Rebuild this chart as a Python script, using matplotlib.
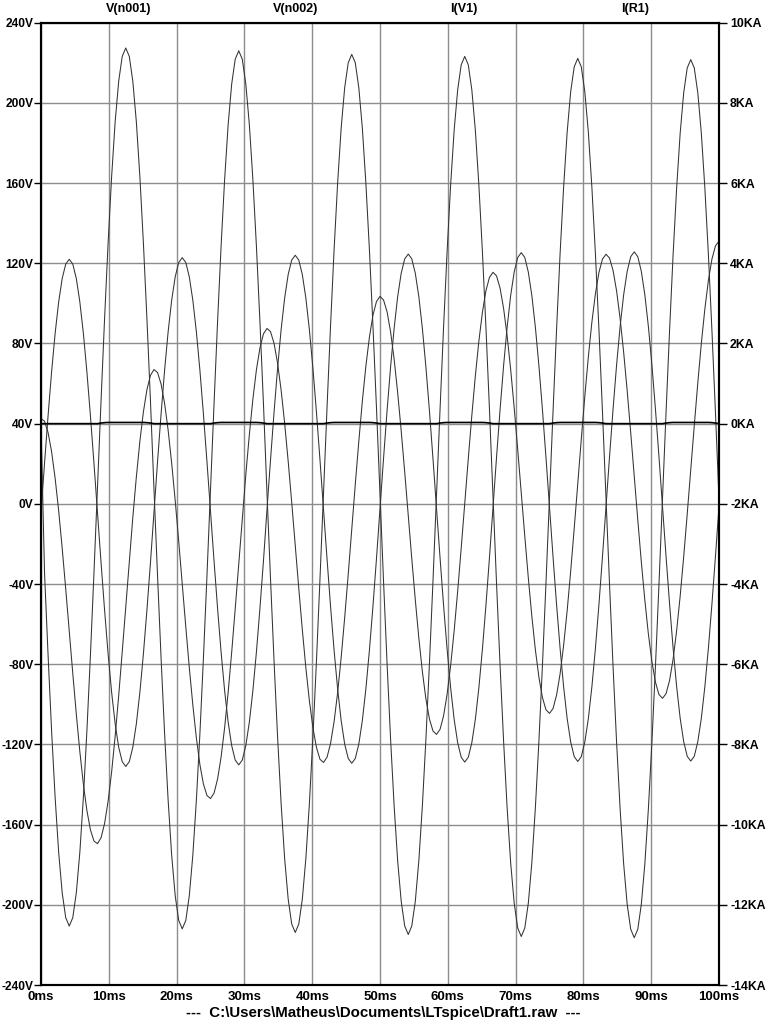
import numpy as np
import matplotlib
matplotlib.use("Agg")
import matplotlib.pyplot as plt

# sample times (ms), 32 samples per 60 Hz period
t_ms = np.linspace(0, 100, 193)

# V(n001) in volts
v_n001 = [
    -4.5, 20.2, 43.9, 65.8, 85.0, 100.7, 112.4, 119.6, 122.0, 119.6, 112.4, 100.7, 85.0, 65.8, 43.9, 20.2,
    -4.5, -29.2, -52.9, -74.8, -94.0, -109.7, -121.4, -128.6, -131.0, -128.6, -121.4, -109.7, -94.0, -74.8, -52.9, -29.2,
    -3.7, 21.0, 44.7, 66.6, 85.8, 101.5, 113.2, 120.4, 122.8, 120.4, 113.2, 101.5, 85.8, 66.6, 44.7, 21.0,
    -3.7, -28.4, -52.1, -74.0, -93.2, -108.9, -120.6, -127.8, -130.2, -127.8, -120.6, -108.9, -93.2, -74.0, -52.1, -28.4,
    -2.7, 22.0, 45.8, 67.7, 86.9, 102.7, 114.4, 121.6, 124.0, 121.6, 114.4, 102.7, 86.9, 67.7, 45.8, 22.0,
    -2.7, -27.4, -51.2, -73.1, -92.3, -108.1, -119.8, -127.0, -129.4, -127.0, -119.8, -108.1, -92.3, -73.1, -51.2, -27.4,
    -2.1, 22.6, 46.4, 68.3, 87.5, 103.3, 115.0, 122.2, 124.6, 122.2, 115.0, 103.3, 87.5, 68.3, 46.4, 22.6,
    -2.1, -26.8, -50.6, -72.5, -91.7, -107.5, -119.2, -126.4, -128.8, -126.4, -119.2, -107.5, -91.7, -72.5, -50.6, -26.8,
    -1.6, 23.2, 47.0, 68.9, 88.1, 103.9, 115.6, 122.9, 125.3, 122.9, 115.6, 103.9, 88.1, 68.9, 47.0, 23.2,
    -1.6, -26.4, -50.2, -72.1, -91.3, -107.1, -118.8, -126.1, -128.5, -126.1, -118.8, -107.1, -91.3, -72.1, -50.2, -26.4,
    -1.3, 23.5, 47.3, 69.3, 88.5, 104.3, 116.0, 123.3, 125.7, 123.3, 116.0, 104.3, 88.5, 69.3, 47.3, 23.5,
    -1.3, -26.1, -49.9, -71.9, -91.1, -106.9, -118.6, -125.9, -128.3, -125.9, -118.6, -106.9, -91.1, -71.9, -49.9, -26.1,
    -1.3]

# V(n002) in volts
v_n002 = [
    42.5, 41.2, 35.6, 26.0, 12.8, -3.4, -22.1, -42.4, -63.5, -84.6, -104.9, -123.6, -139.8, -153.0, -162.6, -168.2,
    -169.5, -166.6, -159.5, -148.4, -133.7, -115.9, -95.7, -73.9, -51.3, -28.6, -6.8, 13.4, 31.2, 45.9, 57.0, 64.1,
    67.0, 65.5, 59.8, 50.1, 36.8, 20.4, 1.7, -18.7, -40.0, -61.3, -81.7, -100.4, -116.8, -130.1, -139.8, -145.5,
    -147.0, -144.3, -137.3, -126.3, -111.7, -94.0, -74.0, -52.3, -29.8, -7.2, 14.5, 34.5, 52.2, 66.8, 77.8, 84.8,
    87.5, 85.9, 80.0, 70.1, 56.7, 40.2, 21.2, 0.7, -20.8, -42.2, -62.7, -81.7, -98.2, -111.6, -121.5, -127.4,
    -129.0, -126.4, -119.5, -108.6, -94.2, -76.7, -56.7, -35.2, -12.8, 9.7, 31.2, 51.2, 68.7, 83.1, 94.0, 100.9,
    103.5, 101.7, 95.8, 85.8, 72.2, 55.5, 36.5, 15.8, -5.8, -27.3, -48.0, -67.0, -83.7, -97.3, -107.3, -113.3,
    -115.0, -112.5, -105.8, -95.0, -80.7, -63.3, -43.5, -22.0, 0.3, 22.5, 44.0, 63.8, 81.2, 95.5, 106.3, 113.0,
    115.5, 113.7, 107.6, 97.5, 83.8, 67.1, 47.9, 27.1, 5.5, -16.1, -36.9, -56.1, -72.8, -86.5, -96.6, -102.7,
    -104.5, -102.1, -95.4, -84.8, -70.6, -53.3, -33.6, -12.2, 10.0, 32.2, 53.6, 73.3, 90.6, 104.8, 115.4, 122.1,
    124.5, 122.6, 116.4, 106.2, 92.4, 75.6, 56.4, 35.5, 13.8, -8.0, -28.9, -48.1, -64.9, -78.7, -88.9, -95.1,
    -97.0, -94.7, -88.1, -77.5, -63.3, -46.1, -26.4, -5.1, 17.0, 39.1, 60.4, 80.1, 97.3, 111.5, 122.1, 128.7,
    131.0]

# I(V1) in kA (right axis)
i_v1 = [
    0.0, -3.72, -5.77, -7.66, -9.32, -10.69, -11.70, -12.32, -12.53, -12.32, -11.70, -10.69, -9.32, -7.66, -5.77, -3.72,
    -1.58, 0.56, 2.61, 4.50, 6.16, 7.53, 8.54, 9.16, 9.37, 9.16, 8.54, 7.53, 6.16, 4.50, 2.61, 0.56,
    -1.65, -3.79, -5.84, -7.73, -9.39, -10.76, -11.77, -12.39, -12.60, -12.39, -11.77, -10.76, -9.39, -7.73, -5.84, -3.79,
    -1.65, 0.49, 2.54, 4.43, 6.09, 7.46, 8.47, 9.09, 9.30, 9.09, 8.47, 7.46, 6.09, 4.43, 2.54, 0.49,
    -1.74, -3.88, -5.93, -7.82, -9.48, -10.85, -11.86, -12.48, -12.69, -12.48, -11.86, -10.85, -9.48, -7.82, -5.93, -3.88,
    -1.74, 0.40, 2.45, 4.34, 6.00, 7.37, 8.38, 9.00, 9.21, 9.00, 8.38, 7.37, 6.00, 4.34, 2.45, 0.40,
    -1.79, -3.93, -5.98, -7.87, -9.53, -10.90, -11.91, -12.53, -12.74, -12.53, -11.91, -10.90, -9.53, -7.87, -5.98, -3.93,
    -1.79, 0.35, 2.40, 4.29, 5.95, 7.32, 8.33, 8.95, 9.16, 8.95, 8.33, 7.32, 5.95, 4.29, 2.40, 0.35,
    -1.84, -3.98, -6.03, -7.92, -9.58, -10.95, -11.96, -12.58, -12.79, -12.58, -11.96, -10.95, -9.58, -7.92, -6.03, -3.98,
    -1.84, 0.30, 2.35, 4.24, 5.90, 7.27, 8.28, 8.90, 9.11, 8.90, 8.28, 7.27, 5.90, 4.24, 2.35, 0.30,
    -1.87, -4.01, -6.06, -7.95, -9.61, -10.98, -11.99, -12.61, -12.82, -12.61, -11.99, -10.98, -9.61, -7.95, -6.06, -4.01,
    -1.87, 0.27, 2.32, 4.21, 5.87, 7.24, 8.25, 8.87, 9.08, 8.87, 8.25, 7.24, 5.87, 4.21, 2.32, 0.27,
    -1.89]

# I(R1) in kA - stays close to zero, small bumps while V(n002) rises
i_r1 = [
    0, 0, 0, 0, 0, 0, 0, 0, 0, 0, 0, 0, 0, 0, 0, 0,
    0, 0.015, 0.025, 0.03, 0.03, 0.03, 0.03, 0.03, 0.03, 0.03, 0.03, 0.03, 0.03, 0.03, 0.025, 0.015,
    0, 0, 0, 0, 0, 0, 0, 0, 0, 0, 0, 0, 0, 0, 0, 0,
    0, 0.015, 0.025, 0.03, 0.03, 0.03, 0.03, 0.03, 0.03, 0.03, 0.03, 0.03, 0.03, 0.03, 0.025, 0.015,
    0, 0, 0, 0, 0, 0, 0, 0, 0, 0, 0, 0, 0, 0, 0, 0,
    0, 0.015, 0.025, 0.03, 0.03, 0.03, 0.03, 0.03, 0.03, 0.03, 0.03, 0.03, 0.03, 0.03, 0.025, 0.015,
    0, 0, 0, 0, 0, 0, 0, 0, 0, 0, 0, 0, 0, 0, 0, 0,
    0, 0.015, 0.025, 0.03, 0.03, 0.03, 0.03, 0.03, 0.03, 0.03, 0.03, 0.03, 0.03, 0.03, 0.025, 0.015,
    0, 0, 0, 0, 0, 0, 0, 0, 0, 0, 0, 0, 0, 0, 0, 0,
    0, 0.015, 0.025, 0.03, 0.03, 0.03, 0.03, 0.03, 0.03, 0.03, 0.03, 0.03, 0.03, 0.03, 0.025, 0.015,
    0, 0, 0, 0, 0, 0, 0, 0, 0, 0, 0, 0, 0, 0, 0, 0,
    0, 0.015, 0.025, 0.03, 0.03, 0.03, 0.03, 0.03, 0.03, 0.03, 0.03, 0.03, 0.03, 0.03, 0.025, 0.015,
    0]

trace_names = ["V(n001)", "V(n002)", "I(V1)", "I(R1)"]
v_ticks = list(range(-240, 241, 40))
v_labels = [f"{v}V" for v in v_ticks]
i_ticks = list(range(-14, 11, 2))
i_labels = [f"{i}KA" for i in i_ticks]
t_ticks = list(range(0, 101, 10))
t_labels = [f"{t}ms" for t in t_ticks]
raw_file = r"---  C:\Users\Matheus\Documents\LTspice\Draft1.raw  ---"

plt.rcParams['font.family'] = ['Liberation Sans', 'DejaVu Sans']

fig = plt.figure(figsize=(7.68, 10.24), dpi=100)
ax = fig.add_axes([41/768, 1 - 985/1024, 678/768, 962.3/1024])
ax2 = ax.twinx()

line_col = '#333333'
ax.plot(t_ms, v_n001, color=line_col, lw=0.75)
ax.plot(t_ms, v_n002, color=line_col, lw=0.75)
ax2.plot(t_ms, i_v1, color=line_col, lw=0.75)
ax2.plot(t_ms, i_r1, color='black', lw=1.2)

ax.set_xlim(0, 100)
ax.set_ylim(-240, 240)
ax2.set_ylim(-14, 10)

ax.set_xticks(t_ticks)
ax.set_xticklabels(t_labels, fontweight='bold', fontsize=9.5,
                   family=['Liberation Sans Narrow', 'Liberation Sans'])
ax.set_yticks(v_ticks)
ax.set_yticklabels(v_labels, fontweight='bold', fontsize=8.6)
ax2.set_yticks(i_ticks)
ax2.set_yticklabels(i_labels, fontweight='bold', fontsize=8.8)

ax.grid(True, color='#8c8c8c', lw=1)
ax.set_axisbelow(True)
ax.tick_params(axis='x', length=0, pad=4)
ax.tick_params(axis='y', direction='out', length=5, width=1, pad=0.5)
ax2.tick_params(axis='y', direction='out', length=6, width=1, pad=2)
for a in (ax, ax2):
    for s in a.spines.values():
        s.set_linewidth(1.5)
        s.set_color('black')

for name, xp in zip(trace_names, [129, 296, 464, 635]):
    fig.text(xp/768, 1 - 9/1024, name, ha='center', va='center',
             fontsize=9, fontweight='bold')
fig.text(383/768, 1 - 1013/1024, raw_file, ha='center', va='center',
         fontsize=10.8, fontweight='bold')

fig.savefig('out.png', dpi=100)
